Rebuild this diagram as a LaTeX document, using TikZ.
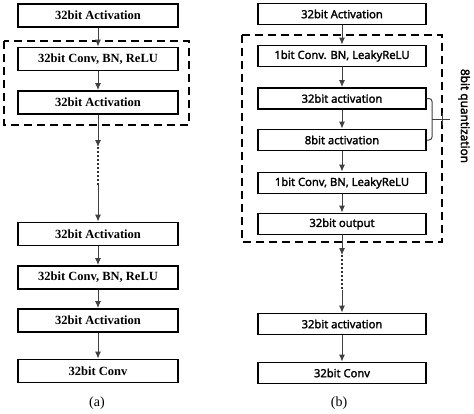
\documentclass[tikz,border=0pt]{standalone}
\usepackage{fontspec}
\setmainfont{Liberation Serif}
\newfontfamily\boxsans[FakeBold=1.8]{Noto Sans}
\usepackage{tikz}
\usetikzlibrary{arrows.meta}

\tikzset{
  ablk/.style={draw, line width=1.8pt, minimum width=160pt, minimum height=23pt,
    inner sep=0pt, font=\fontsize{12.5}{14}\selectfont\bfseries},
  bblk/.style={draw, line width=1.8pt, minimum width=168pt, minimum height=21pt,
    inner sep=0pt, font=\boxsans\fontsize{11.2}{13}\selectfont},
  flow/.style={draw=black!75, line width=1pt, -{Latex[length=7pt,width=6pt]}},
  dotline/.style={draw=black!80, line width=1.8pt, dash pattern=on 2pt off 2pt},
  group/.style={draw, line width=1.7pt, dash pattern=on 8pt off 5pt}
}

\begin{document}
\begin{tikzpicture}[x=1pt,y=-1pt]
\useasboundingbox (0,0) rectangle (474,413);
% (a)
\draw[group] (4,41) rectangle (189,125);
\node[ablk] (a1) at (98,15.5) {32bit Activation};
\node[ablk] (a2) at (98,59) {32bit Conv, BN, ReLU};
\node[ablk] (a3) at (98,102.5) {32bit Activation};
\node[ablk] (a4) at (98,234) {32bit Activation};
\node[ablk] (a5) at (98,277.5) {32bit Conv, BN, ReLU};
\node[ablk] (a6) at (98,320.5) {32bit Activation};
\node[ablk] (a7) at (98,371) {32bit Conv};
\coordinate (ad1) at (98,147);
\coordinate (ad2) at (98,185);
\draw[flow] (a1) -- (a2);
\draw[flow] (a2) -- (a3);
\draw[flow] (a3) -- (ad1);
\draw[dotline] (ad1) -- (ad2);
\draw[flow] (ad2) -- (a4);
\draw[flow] (a4) -- (a5);
\draw[flow] (a5) -- (a6);
\draw[flow] (a6) -- (a7);
\node[font=\fontsize{14}{16}\selectfont] (alab) at (97,403) {(a)};
% (b)
\draw[group] (242,35) rectangle (442,242);
\node[bblk] (b1) at (342,14) {32bit Activation};
\node[bblk] (b2) at (342,56) {1bit Conv. BN, LeakyReLU};
\node[bblk] (b3) at (342,98.5) {32bit activation};
\node[bblk] (b4) at (342,140) {8bit activation};
\node[bblk] (b5) at (342,183) {1bit Conv, BN, LeakyReLU};
\node[bblk] (b6) at (342,224) {32bit output};
\node[bblk] (b7) at (342,324) {32bit activation};
\node[bblk] (b8) at (342,373) {32bit Conv};
\coordinate (bd1) at (342,255);
\coordinate (bd2) at (342,290);
\draw[flow] (b1) -- (b2);
\draw[flow] (b2) -- (b3);
\draw[flow] (b3) -- (b4);
\draw[flow] (b4) -- (b5);
\draw[flow] (b5) -- (b6);
\draw[flow] (b6) -- (bd1);
\draw[dotline] (bd1) -- (bd2);
\draw[flow] (bd2) -- (b7);
\draw[flow] (b7) -- (b8);
% quantization bracket
\coordinate (bq) at (432,119);
\coordinate (bqt) at (450,119);
\draw[black!75, line width=1pt, rounded corners=3pt] (b3.east) -| (bq) |- (b4.east);
\draw[black!75, line width=1pt] (bq) -- (bqt);
\draw[black!75, line width=1pt] (442,113) -- (442,125);
\node[font=\boxsans\fontsize{11.8}{14}\selectfont, rotate=-90] (qlab) at (464,116) {8bit quantization};
\node[font=\fontsize{14}{16}\selectfont] (blab) at (339,403) {(b)};
\end{tikzpicture}
\end{document}
